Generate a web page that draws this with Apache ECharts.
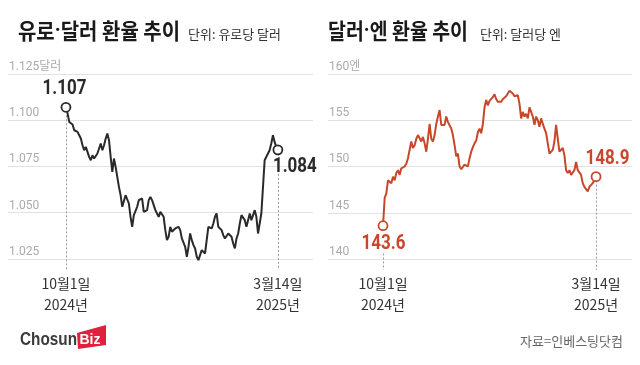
<!DOCTYPE html>
<html><head><meta charset="utf-8">
<script src="https://cdn.jsdelivr.net/npm/echarts@6/dist/echarts.min.js"></script>
<style>html,body{margin:0;padding:0;background:#fff}#c{width:640px;height:365px}</style>
</head><body><div id="c"></div>
<script>
// ---- data ----
const eurUsd = [1.107,1.1036,1.0991,1.0982,1.0977,1.0946,1.0937,1.0937,1.0919,1.0901,
1.0865,1.0838,1.0856,1.0829,1.0802,1.0784,1.0811,1.0793,1.0802,1.0820,
1.0847,1.0874,1.0838,1.0865,1.0901,1.0928,1.0892,1.0802,1.0721,1.0793,
1.0748,1.0694,1.0640,1.0595,1.0532,1.0541,1.0595,1.0600,1.0550,1.0478,
1.0424,1.0487,1.0496,1.0532,1.0568,1.0559,1.0577,1.0505,1.0500,1.0514,
1.0568,1.0586,1.0568,1.0541,1.0514,1.0496,1.0478,1.0505,1.0505,1.0478,
1.0406,1.0352,1.0370,1.0424,1.0397,1.0406,1.0415,1.0424,1.0424,1.0406,
1.0361,1.0352,1.0316,1.0262,1.0316,1.0388,1.0352,1.0325,1.0307,1.0262,
1.0244,1.0244,1.0298,1.0289,1.0280,1.0271,1.0424,1.0428,1.0415,1.0442,
1.0478,1.0496,1.0424,1.0433,1.0406,1.0379,1.0361,1.0352,1.0388,1.0397,
1.0370,1.0334,1.0307,1.0361,1.0388,1.0442,1.0487,1.0478,1.0460,1.0424,
1.0460,1.0496,1.0460,1.0487,1.0514,1.0478,1.0388,1.0379,1.0496,1.0640,
1.0784,1.0793,1.0820,1.0838,1.0874,1.0919,1.0883,1.0856,1.084];
const usdJpy = [143.6,146.6,147.1,148.5,148.7,148.2,148.9,148.5,149.3,149.6,
149.1,149.8,149.6,150.0,150.3,150.9,151.1,152.7,152.0,152.3,
153.0,153.4,153.4,152.7,153.2,152.5,151.6,153.0,154.6,153.0,
152.7,153.4,154.6,155.4,156.1,154.5,154.6,154.5,155.4,154.8,
154.6,154.1,153.4,152.3,151.1,151.4,150.0,149.7,149.6,150.2,
150.2,150.0,150.9,151.6,152.1,152.5,152.8,153.7,154.1,153.6,
154.6,156.4,157.2,156.6,157.1,157.2,157.5,157.8,157.3,157.0,
157.1,157.0,157.3,157.3,157.6,157.8,158.2,158.2,157.9,157.6,
157.8,157.7,156.8,155.2,155.9,155.4,155.7,155.2,156.4,155.9,
155.4,154.5,155.4,155.0,154.3,155.2,154.6,154.1,153.6,152.5,
151.4,151.4,151.8,152.7,154.5,153.0,151.6,151.8,152.0,151.2,
149.6,149.3,149.6,149.1,149.1,149.6,150.5,149.6,149.8,149.1,
148.2,147.8,147.8,147.3,147.8,148.0,148.2,148.5,148.9];
const dateLabels = ['10월1일\n2024년', '3월14일\n2025년'];
const eurAxis = {min: 1.0, max: 1.125, step: 0.025, unit: '달러', digits: 3};
const jpyAxis = {min: 135, max: 160, step: 5, unit: '엔', digits: 0};
const titleParts = [['유로', '·', '달러 환율 추이'], ['달러', '·', '엔 환율 추이']];
const subtitles = ['단위: 유로당 달러', '단위: 달러당 엔'];
const source = '자료=인베스팅닷컴';

// ---- style ----
const KR = "'Noto Sans CJK KR', sans-serif";
const NUM = "Roboto, 'Noto Sans CJK KR', sans-serif";
const RED = '#c8472b';
const DARK = '#2a2a2a';

const ctx = document.createElement('canvas').getContext('2d');
function measure(text, font) { ctx.font = font; return ctx.measureText(text).width; }

function yAxisFor(idx, ax) {
  return {
    gridIndex: idx, type: 'value', min: ax.min, max: ax.max, interval: ax.step,
    axisLine: {show: false}, axisTick: {show: false},
    axisLabel: {
      inside: true, showMinLabel: false, margin: 1, verticalAlign: 'bottom',
      color: '#ababab', fontSize: 12, fontFamily: NUM, padding: [0, 0, 1, 0],
      formatter: v => {
        const s = v.toFixed(ax.digits);
        return Math.abs(v - ax.max) < 1e-9 ? s + ax.unit : s;
      }
    },
    splitLine: {showMinLine: false, lineStyle: {color: '#e2e2e2', width: 1}}
  };
}

function seriesFor(idx, data, color, bottomVal, startLineFrom) {
  const last = data.length - 1;
  const xl = {show: true, position: 'end', distance: 3, color: '#333', fontSize: 14,
    lineHeight: 21, fontFamily: KR, align: 'center'};
  return {
    type: 'line', xAxisIndex: idx, yAxisIndex: idx,
    data: data.map((v, i) => [i, v]),
    showSymbol: false, smooth: false,
    lineStyle: {color: color, width: 2},
    itemStyle: {color: color},
    z: 3,
    markLine: {
      silent: true, symbol: ['none', 'none'], animation: false,
      lineStyle: {color: '#9a9a9a', type: [2, 2], width: 1},
      data: [
        [{coord: [0, startLineFrom != null ? startLineFrom : data[0]], label: Object.assign({formatter: dateLabels[0]}, xl)},
         {coord: [0, bottomVal]}],
        [{coord: [last, data[last]], label: Object.assign({formatter: dateLabels[1]}, xl)},
         {coord: [last, bottomVal]}]
      ]
    },
    markPoint: {
      symbol: 'circle', symbolSize: 9, animation: false, label: {show: false},
      itemStyle: {color: '#fff', borderColor: color, borderWidth: 1.8},
      data: [{coord: [0, data[0]]}, {coord: [last, data[last]]}]
    }
  };
}

const tFont = 'bold 22px ' + KR;
const dFont = 'bold 22px Roboto';
const sFont = '13px ' + KR;
function titleScale(parts, target) {
  return target / (measure(parts[0] + parts[2], tFont) + measure(parts[1], dFont));
}
function titleGraphic(parts, x, target) {
  return {type: 'text', x: x, y: 31, scaleX: titleScale(parts, target),
    style: {text: parts[0] + '{d|' + parts[1] + '}' + parts[2], font: tFont, fill: '#1a1a1a',
      verticalAlign: 'middle',
      rich: {d: {fontFamily: 'Roboto', fontWeight: 'bold', fontSize: 22, fill: '#1a1a1a'}}}};
}
const sScale = [93 / measure(subtitles[0], sFont), 81 / measure(subtitles[1], sFont)];
const logoFont = 'bold 18px "Liberation Sans", sans-serif';
const logoScale = 57 / measure('Chosun', logoFont);

const option = {
  animation: false,
  backgroundColor: '#fff',
  grid: [
    {left: 8, top: 74, width: 305, height: 231.25},
    {left: 328, top: 74, width: 304, height: 231.25}
  ],
  xAxis: [
    {gridIndex: 0, type: 'value', min: -35, max: 149.2, show: false},
    {gridIndex: 1, type: 'value', min: -33.05, max: 149.6, show: false}
  ],
  yAxis: [yAxisFor(0, eurAxis), yAxisFor(1, jpyAxis)],
  series: [
    seriesFor(0, eurUsd, DARK, 1.019),
    seriesFor(1, usdJpy, RED, 138.8, 140.6)
  ],
  graphic: [
    titleGraphic(titleParts[0], 18, 162),
    {type: 'text', x: 188, y: 34, scaleX: sScale[0], style: {text: subtitles[0], font: sFont, fill: '#333', verticalAlign: 'middle'}},
    titleGraphic(titleParts[1], 328, 140),
    {type: 'text', x: 480, y: 34, scaleX: sScale[1], style: {text: subtitles[1], font: sFont, fill: '#333', verticalAlign: 'middle'}},
    {type: 'text', x: 20, y: 340, scaleX: logoScale, style: {text: 'Chosun', font: logoFont, fill: '#3a3a3a', verticalAlign: 'middle'}},
    {type: 'polygon', shape: {points: [[77, 333], [106, 325], [106, 345], [78, 349]]}, style: {fill: '#e0203c'}},
    {type: 'text', x: 90, y: 340, style: {text: 'Biz', font: 'bold 14px "Liberation Sans", sans-serif', fill: '#fff', align: 'center', verticalAlign: 'middle'}},
    {type: 'text', x: 623, y: 341, style: {text: source, font: '13px ' + KR, fill: '#666', align: 'right', verticalAlign: 'middle'}}
  ]
};

const chart = echarts.init(document.getElementById('c'), null, {renderer: 'canvas'});
chart.setOption(option);

// value annotations placed from the data through the chart's own scales
const numFont = 'bold 20px Roboto';
const numScale = 0.85;
const ann = [
  {grid: 0, i: 0, v: eurUsd[0], d: 3, color: DARK, dx: -1.5, dy: -18, align: 'center'},
  {grid: 0, i: eurUsd.length - 1, v: eurUsd[eurUsd.length - 1], d: 3, color: DARK, dx: -5, dy: 17, align: 'left'},
  {grid: 1, i: 0, v: usdJpy[0], d: 1, color: RED, dx: 0.5, dy: 18, align: 'center'},
  {grid: 1, i: usdJpy.length - 1, v: usdJpy[usdJpy.length - 1], d: 1, color: RED, dx: 11.5, dy: -18, align: 'center'}
];
const annGraphics = ann.map(a => {
  const p = chart.convertToPixel({gridIndex: a.grid}, [a.i, a.v]);
  return {type: 'text', x: p[0] + a.dx, y: p[1] + a.dy, scaleX: numScale, z: 10,
    style: {text: a.v.toFixed(a.d), font: numFont, fill: a.color, align: a.align, verticalAlign: 'middle'}};
});
chart.setOption({graphic: option.graphic.concat(annGraphics)});
</script>
</body></html>
